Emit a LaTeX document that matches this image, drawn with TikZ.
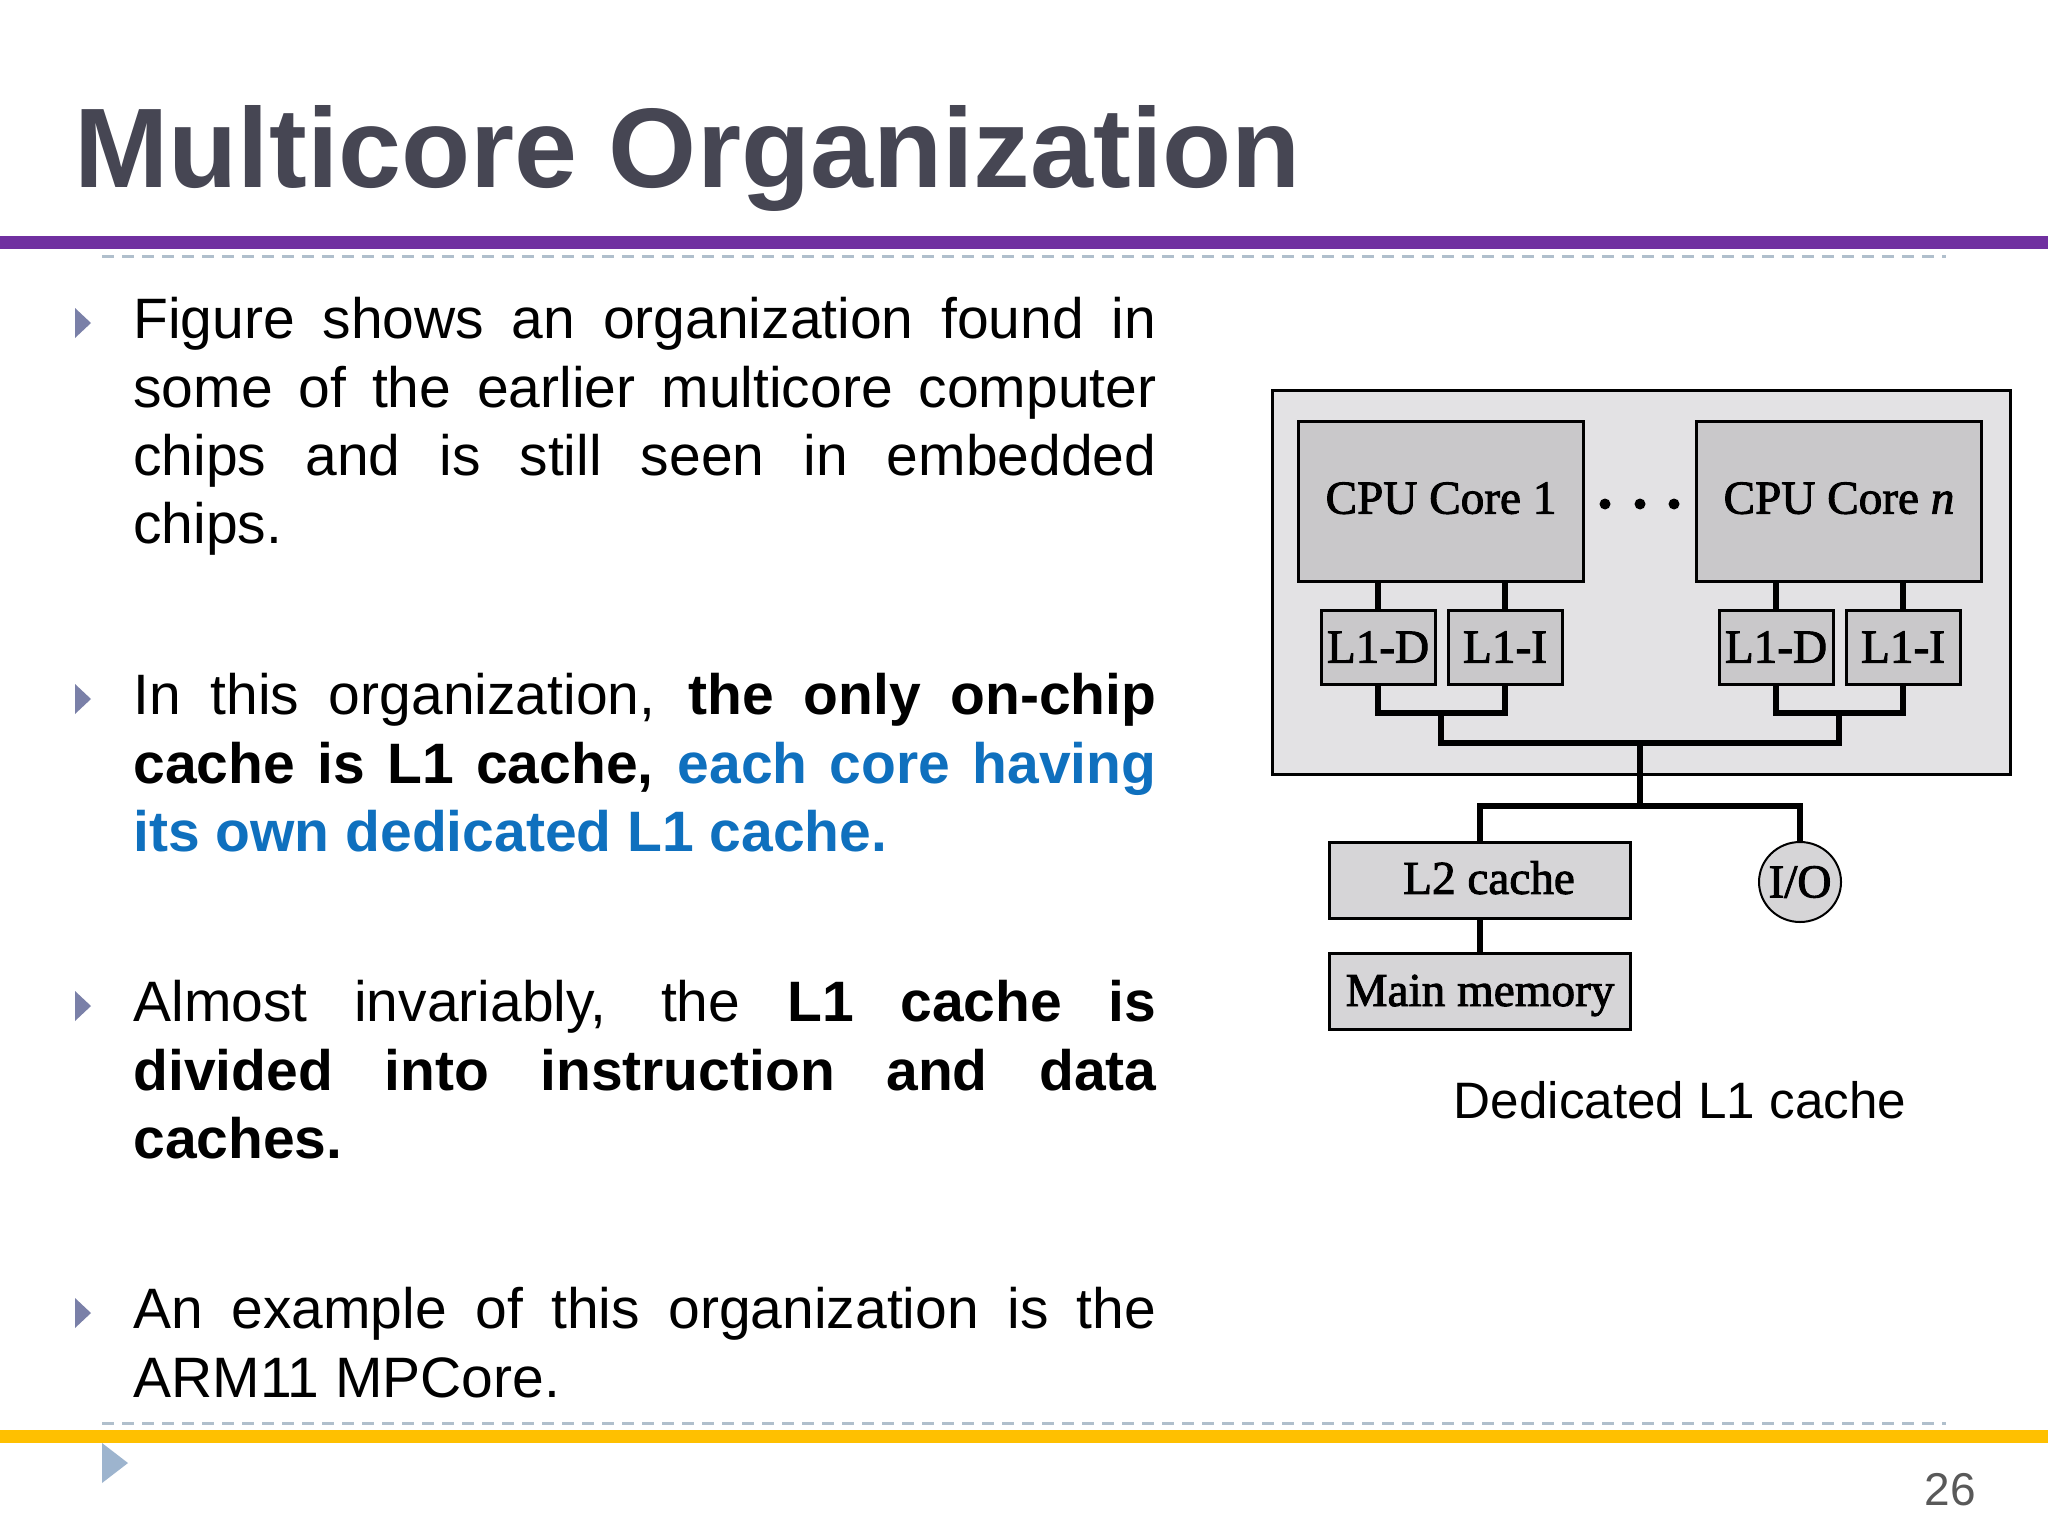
\documentclass[tikz,border=0pt]{standalone}
\usepackage{fontspec}
\setmainfont{Liberation Sans}
\newfontfamily\figfont[FakeBold=2]{Liberation Serif}
\usepackage{xcolor}
\usetikzlibrary{shapes.geometric}

\tikzset{
    bodytext/.style={anchor=north west,inner sep=0pt,text width=511.5pt,align=justify,
        font=\fontsize{28.5}{34.15}\selectfont},
    marker/.style={fill=BulletBlue,draw=none},
    partbox/.style={draw=black,line width=1.5pt,inner sep=0pt,text=black,
        font=\figfont\fontsize{23.6}{25}\selectfont},
    corebox/.style={partbox,fill=CoreGray,minimum width=142.5pt,minimum height=80pt},
    cachebox/.style={partbox,fill=CoreGray,minimum width=57pt,minimum height=37pt},
    lowerbox/.style={partbox,fill=LowGray,minimum width=150.5pt,minimum height=38pt},
    wire/.style={line width=3.2pt},
}

\begin{document}
\begin{tikzpicture}[x=0.5pt,y=-0.5pt]
    \definecolor{BulletBlue}{HTML}{7A80A8}
    \definecolor{CoreGray}{HTML}{C9C8CA}
    \definecolor{LowGray}{HTML}{D6D5D7}
    \definecolor{ChipGray}{HTML}{E3E2E4}
    \definecolor{TitleInk}{HTML}{464653}
    \definecolor{LinkBlue}{HTML}{0F70BE}
    \definecolor{BandPurple}{HTML}{7030A0}
    \definecolor{BandGold}{HTML}{FFC000}
    \definecolor{RuleGray}{HTML}{B0BFCC}
    \definecolor{NextBlue}{HTML}{9DB4CE}
    \useasboundingbox (0,0) rectangle (2048,1536);
    \fill[white] (0,0) rectangle (2048,1536);

    % header and footer
    \node[anchor=base west,inner sep=0pt,text=TitleInk,font=\bfseries\fontsize{56.6}{60}\selectfont]
        (title) at (74,187) {Multicore Organization};
    \fill[BandPurple] (0,236) rectangle (2048,249);
    \fill[BandGold] (0,1430) rectangle (2048,1443);
    \foreach \ruley in {256,1423}{%
        \draw[RuleGray,line width=1.5pt,dash pattern=on 6pt off 4pt]
            (102,\ruley) -- (1946,\ruley);
    }
    \fill[NextBlue] (102,1443) -- (128,1463) -- (102,1483) -- cycle;
    \node[anchor=base east,inner sep=0pt,text=black!65,font=\fontsize{23}{26}\selectfont]
        (pagenum) at (1976,1505) {26};

    % bullets
    \foreach \bully in {323,699,1006,1313}{%
        \fill[marker] (75,\bully-15) -- (91,\bully) -- (75,\bully+15) -- cycle;
    }

    % text on the left
    \node[bodytext] (parta) at (133,297) {Figure shows an organization found in\linebreak
        some of the earlier multicore computer\linebreak
        chips and is still seen in embedded\linebreak
        chips.};
    \node[bodytext] (partb) at (133,673) {In this organization, \textbf{the only on-chip\linebreak
        cache is L1 cache,} \textcolor{LinkBlue}{\textbf{each core having\linebreak
        its own dedicated L1 cache.}}};
    \node[bodytext] (partc) at (133,980) {Almost invariably, the \textbf{L1 cache is\linebreak
        divided into instruction and data\linebreak
        caches.}};
    \node[bodytext] (partd) at (133,1287) {An example of this organization is the\linebreak
        ARM11 MPCore.};

    % chip outline
    \node[draw=black,line width=1.5pt,fill=ChipGray,minimum width=369pt,minimum height=192pt,inner sep=0pt]
        (chip) at (1641,582) {};
    \coordinate (bus) at (1640,743);
    \coordinate (split) at (1640,806);

    \foreach \cpu/\x/\cpuname in {1/1441/{CPU Core 1},n/1839/{CPU Core \textit{n}}}{%
        \node[corebox] (core\cpu) at (\x,501) {\raisebox{3pt}{\cpuname}};
        \node[cachebox] (l1d\cpu) at (\x-63,647) {L1-D};
        \node[cachebox] (l1i\cpu) at (\x+64,647) {L1-I};
        \coordinate (join\cpu) at (\x,713);
        \draw[wire] (l1d\cpu.north |- core\cpu.south) -- (l1d\cpu.north);
        \draw[wire] (l1i\cpu.north |- core\cpu.south) -- (l1i\cpu.north);
        \draw[wire] (l1d\cpu.south) |- (join\cpu);
        \draw[wire] (l1i\cpu.south) |- (join\cpu);
        \draw[wire] (join\cpu) |- (bus);
    }

    % dots between the cores
    \foreach \dotx/\dotname in {1605/dota,1640/dotb,1674/dotc}{%
        \node[circle,fill=black,minimum size=5.5pt,inner sep=0pt] (\dotname) at (\dotx,504) {};
    }

    % below the chip
    \node[lowerbox] (ltwo) at (1480,880) {\hspace{9pt}\raisebox{2.5pt}{L2 cache}};
    \node[lowerbox,text height=20pt,text depth=5pt] (mainmem) at (1480,991) {Main memory};
    \node[partbox,ellipse,fill=LowGray,line width=1pt,minimum width=41pt,minimum height=40pt]
        (io) at (1800,882) {\makebox[0pt]{I/O}};
    \draw[wire] (bus) -- (split);
    \draw[wire] (ltwo.north) |- (split);
    \draw[wire] (io.north) |- (split);
    \draw[wire] (ltwo) -- (mainmem);

    \node[anchor=base,inner sep=0pt,font=\fontsize{25.6}{30}\selectfont] (caption) at (1680,1118) {Dedicated L1 cache};
\end{tikzpicture}
\end{document}
